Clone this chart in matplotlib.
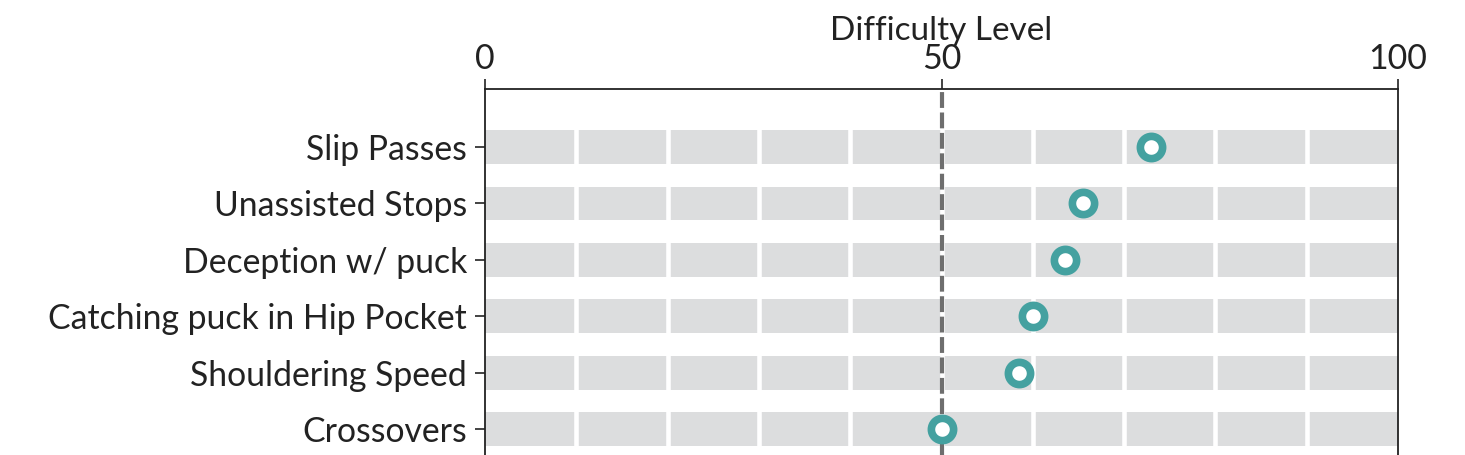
import matplotlib
matplotlib.use("Agg")
import matplotlib.pyplot as plt

plt.rcParams['font.family'] = ['Lato', 'DejaVu Sans']

categories = ["Slip Passes", "Unassisted Stops", "Deception w/ puck",
              "Catching puck in Hip Pocket", "Shouldering Speed", "Crossovers"]
values = [73, 65.5, 63.5, 60, 58.5, 50]
x_ticks = [0, 50, 100]
x_label = "Difficulty Level"
reference = 50

W, H = 1465, 455
fig = plt.figure(figsize=(W / 100, H / 100), dpi=100)
ax = fig.add_axes([485 / W, 0, (1398 - 485) / W, 1 - 89 / H])

ypos = list(range(len(categories)))
ax.barh(ypos, [100] * len(categories), left=0, height=0.6, color="#DCDDDE", zorder=1)
for gx in range(10, 100, 10):
    ax.axvline(gx, color="white", lw=3.3, zorder=2)
ax.axvline(reference, color="#6E6E6E", lw=3.0, linestyle=(0, (3.8, 1.1)), zorder=3)
ax.plot(values, ypos, linestyle="none", marker="o", markersize=16,
        markerfacecolor="white", markeredgecolor="#44A1A0", markeredgewidth=5.5, zorder=4)

ax.set_xlim(0, 100)
ax.set_ylim(5.46, -1.03)
ax.set_yticks(ypos)
ax.set_yticklabels(categories, fontsize=24.3, color="#222222")
ax.xaxis.tick_top()
ax.xaxis.set_label_position("top")
ax.set_xticks(x_ticks)
ax.set_xticklabels([str(t) for t in x_ticks], fontsize=24.5, color="#222222")
ax.set_xlabel(x_label, fontsize=24, color="#222222", labelpad=2)
ax.tick_params(axis="both", length=7, width=1.2, color="#222222")
ax.tick_params(axis="y", pad=6)
ax.tick_params(axis="x", pad=3)
ax.spines["bottom"].set_visible(False)
for s in ["left", "right", "top"]:
    ax.spines[s].set_linewidth(1.3)
    ax.spines[s].set_color("#222222")

fig.savefig("out.png", dpi=100)
